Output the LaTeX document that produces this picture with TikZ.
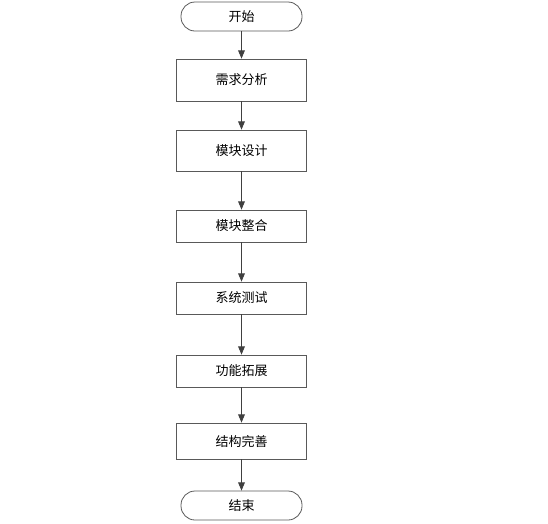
\documentclass[tikz,border=0pt]{standalone}
\usepackage{fontspec}
\newfontfamily\cjk{Noto Sans CJK SC}
\usetikzlibrary{arrows}
\definecolor{boxline}{HTML}{595959}
\definecolor{arrowline}{HTML}{404040}
\tikzstyle{startstop} = [rectangle, rounded corners=14pt, minimum width=121pt, minimum height=29pt, text centered, draw=boxline, fill=white, font=\cjk\fontsize{13}{15}\selectfont]
\tikzstyle{process} = [rectangle, minimum width=130pt, text centered, draw=boxline, fill=white, font=\cjk\fontsize{13}{15}\selectfont]
\tikzstyle{edge} = [line width=0.9pt, draw=arrowline, ->, >=triangle 45]

\begin{document}
\begin{tikzpicture}[x=1pt, y=-1pt, line width=0.8pt]
\useasboundingbox (0,0) rectangle (548,523);

\node (start) [startstop] at (241.5,16.5) {开始};
\node (req) [process, minimum height=42pt] at (241.5,80) {需求分析};
\node (design) [process, minimum height=41pt] at (241.5,150.5) {模块设计};
\node (merge) [process, minimum height=32pt] at (241.5,226) {模块整合};
\node (test) [process, minimum height=32pt] at (241.5,298) {系统测试};
\node (extend) [process, minimum height=32pt] at (241.5,371) {功能拓展};
\node (refine) [process, minimum height=36pt] at (241.5,441) {结构完善};
\node (stop) [startstop] at (241.5,505.5) {结束};

\draw [edge] (start) -- (req);
\draw [edge] (req) -- (design);
\draw [edge] (design) -- (merge);
\draw [edge] (merge) -- (test);
\draw [edge] (test) -- (extend);
\draw [edge] (extend) -- (refine);
\draw [edge] (refine) -- (stop);

\end{tikzpicture}
\end{document}
